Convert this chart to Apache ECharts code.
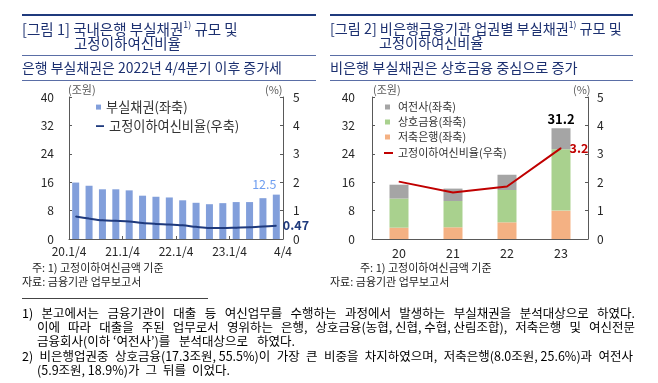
<!DOCTYPE html>
<html><head><meta charset="utf-8">
<script src="https://cdn.jsdelivr.net/npm/echarts@6/dist/echarts.min.js"></script>
<style>html,body{margin:0;padding:0;background:#fff}#c{width:658px;height:383px}</style>
</head><body><div id="c"></div>
<script>
// ---- data ----
const quarters = ['20.1/4','20.2/4','20.3/4','20.4/4','21.1/4','21.2/4','21.3/4','21.4/4','22.1/4','22.2/4','22.3/4','22.4/4','23.1/4','23.2/4','23.3/4','23.4/4'];
const bankNpl = [15.9, 15.0, 14.0, 14.0, 13.7, 12.2, 11.9, 11.7, 10.9, 10.2, 9.8, 10.1, 10.4, 10.4, 11.5, 12.5];
const bankRatio = [0.79, 0.72, 0.66, 0.64, 0.62, 0.56, 0.53, 0.51, 0.48, 0.43, 0.39, 0.39, 0.40, 0.41, 0.44, 0.47];
const bankTickLabels = ['20.1/4','21.1/4','22.1/4','23.1/4','4/4'];
const years = ['20','21','22','23'];
const savingsBank = [3.2, 3.3, 4.7, 8.0];
const mutualFin = [8.2, 7.4, 9.1, 17.3];
const creditCo = [3.9, 3.5, 4.3, 5.9];
const nonBankRatio = [2.02, 1.64, 1.85, 3.2];

// ---- styles ----
const SANS = '"Noto Sans CJK KR", "Noto Sans", sans-serif';
const AX = '#595959', TXT = '#262626', NAVY = '#1f3a7d';
const TITLE_C = '#1c3070', RULE_C = '#5a6ea6';

const cv = document.createElement('canvas').getContext('2d');
function tw(t, size, weight){ cv.font = (weight||'normal') + ' ' + size + 'px "Noto Sans CJK KR"'; return cv.measureText(t).width; }
const G = [];
function txt(x, y, t, size, color, weight){
  G.push({type:'text', x:x, y:y, silent:true, style:{text:t, fontSize:size, fontFamily:SANS, fontWeight:weight||'normal', fill:color, textAlign:'left', align:'left', textVerticalAlign:'middle', verticalAlign:'middle'}});
}
function hline(x1, x2, y, w, color){ G.push({type:'line', silent:true, shape:{x1:x1,y1:y,x2:x2,y2:y}, style:{stroke:color, lineWidth:w}}); }
function tokenize(s){ const out=[]; let cur='', d=0; for (const ch of s){ if (ch==='(') d++; if (ch===')' && d>0) d--; if (ch===' ' && d===0){ if(cur) out.push(cur); cur=''; } else cur+=ch; } if(cur) out.push(cur); return out; }
function justify(x0, x1, y, s, size, color, minGap){
  const tk = tokenize(s);
  let w, sum, gap, sz = size;
  for (let k = 0; k < 40; k++){
    w = tk.map(t => tw(t, sz)); sum = w.reduce((a,b)=>a+b,0);
    gap = (x1 - x0 - sum) / (tk.length - 1);
    if (gap >= minGap) break; sz -= 0.1;
  }
  let cx = x0;
  tk.forEach((t,i) => { txt(cx, y, t, sz, color); cx += w[i] + gap; });
}
function fitTitle(x0, x1, y, a, sup, b, color){
  const base = 13; const wb = tw(a, base) + tw(sup, base*0.6) + tw(b, base);
  const s = base * (x1 - x0) / wb; let cx = x0;
  txt(cx, y, a, s, color); cx += tw(a, s);
  if (sup){ txt(cx, y - 4, sup, s*0.6, color); cx += tw(sup, s*0.6); }
  if (b) txt(cx, y, b, s, color);
  return s;
}

// ---- titles ----
hline(22, 316, 15, 2, NAVY); hline(330, 633, 15, 2, NAVY);
const s1 = fitTitle(22, 238, 29, '[그림 1] 국내은행 부실채권', '1)', ' 규모 및', TITLE_C);
txt(74, 43, '고정이하여신비율', s1, TITLE_C);
const s2 = fitTitle(330, 622, 29, '[그림 2] 비은행금융기관 업권별 부실채권', '1)', ' 규모 및', TITLE_C);
txt(379, 43, '고정이하여신비율', s2, TITLE_C);
hline(22, 316, 55.5, 1, RULE_C); hline(330, 633, 55.5, 1, RULE_C);
fitTitle(22, 282, 68, '은행 부실채권은 2022년 4/4분기 이후 증가세', '', '', TITLE_C);
fitTitle(330, 578, 68, '비은행 부실채권은 상호금융 중심으로 증가', '', '', TITLE_C);
hline(22, 316, 80.5, 1, RULE_C); hline(330, 633, 80.5, 1, RULE_C);

// unit labels
txt(68, 90, '(조원)', 11, '#595959'); txt(265, 90, '(%)', 11, '#595959');
txt(373, 90, '(조원)', 11, '#595959'); txt(573, 90, '(%)', 11, '#595959');

// notes
txt(32, 268, '주: 1) 고정이하여신금액 기준', 11, '#222');
txt(22, 282, '자료: 금융기관 업무보고서', 11, '#222');
txt(360, 268, '주: 1) 고정이하여신금액 기준', 11, '#222');
txt(330, 282, '자료: 금융기관 업무보고서', 11, '#222');
hline(22, 208, 298.5, 1, '#444');
const FS = 12.5;
justify(22, 635, 313, '1) 본고에서는 금융기관이 대출 등 여신업무를 수행하는 과정에서 발생하는 부실채권을 분석대상으로 하였다.', FS, '#000', 6);
justify(37, 635, 327, '이에 따라 대출을 주된 업무로서 영위하는 은행, 상호금융(농협, 신협, 수협, 산림조합), 저축은행 및 여신전문', FS, '#000', 6);
justify(37, 295, 341, '금융회사(이하 ‘여전사’)를 분석대상으로 하였다.', FS, '#000', 3);
justify(22, 633, 356, '2) 비은행업권중 상호금융(17.3조원, 55.5%)이 가장 큰 비중을 차지하였으며, 저축은행(8.0조원, 25.6%)과 여전사', FS, '#000', 6);
justify(37, 230, 370, '(5.9조원, 18.9%)가 그 뒤를 이었다.', FS, '#000', 3);

const last = bankNpl.length - 1;
const yl = (m) => ({show:true, margin:m, fontSize:12, color:TXT, fontFamily:SANS});
const axLine = {show:true, lineStyle:{color:AX, width:1}};
const tick = {show:true, inside:true, length:3, lineStyle:{color:AX}};
const totals = savingsBank.map((v,i) => v + mutualFin[i] + creditCo[i]);
const LINE_ICON = 'path://M0,0L9,0L9,2L0,2Z';

const option = {
  animation:false,
  graphic:G,
  grid:[{left:69, top:97, width:214, height:142},{left:372, top:97, width:216, height:142}],
  legend:[
    {data:['부실채권(좌축)'], left:96, top:100.5, padding:0, itemWidth:5, itemHeight:5, icon:'rect', selectedMode:false, textStyle:{fontSize:13.2, color:'#333', fontFamily:SANS}},
    {data:['고정이하여신비율(우축)'], left:96, top:119.5, padding:0, itemWidth:8, itemHeight:5, icon:LINE_ICON, selectedMode:false, textStyle:{fontSize:13.2, color:'#333', fontFamily:SANS}},
    {data:['여전사(좌축)','상호금융(좌축)','저축은행(좌축)'], orient:'vertical', left:385, top:101.5, padding:0, itemGap:4, itemWidth:5, itemHeight:5, icon:'rect', selectedMode:false, textStyle:{fontSize:11, color:'#333', fontFamily:SANS, padding:[0,0,0,3]}},
    {data:['고정이하여신비율(우축) '], left:384, top:147.5, padding:0, itemWidth:9, itemHeight:5, icon:LINE_ICON, selectedMode:false, textStyle:{fontSize:11, color:'#333', fontFamily:SANS}}
  ],
  xAxis:[
    {type:'category', gridIndex:0, data:quarters, boundaryGap:true, axisLine:axLine, axisTick:{show:false}, axisLabel:{show:false}},
    {type:'value', gridIndex:0, min:0, max:16, interval:4, position:'bottom', axisLine:{show:false}, axisTick:tick, splitLine:{show:false},
      axisLabel:{formatter:v => bankTickLabels[v/4], margin:6, fontSize:12, color:TXT, fontFamily:SANS}},
    {type:'category', gridIndex:1, data:years, axisLine:axLine, axisTick:{show:false}, axisLabel:{margin:8, fontSize:12.5, color:TXT, fontFamily:SANS}}
  ],
  yAxis:[
    {type:'value', gridIndex:0, min:0, max:40, interval:8, position:'left', axisLine:axLine, axisTick:tick, splitLine:{show:false}, axisLabel:yl(15)},
    {type:'value', gridIndex:0, min:0, max:5, interval:1, position:'right', axisLine:axLine, axisTick:tick, splitLine:{show:false}, axisLabel:yl(10)},
    {type:'value', gridIndex:1, min:0, max:40, interval:8, position:'left', axisLine:axLine, axisTick:tick, splitLine:{show:false}, axisLabel:yl(17)},
    {type:'value', gridIndex:1, min:0, max:5, interval:1, position:'right', axisLine:axLine, axisTick:tick, splitLine:{show:false}, axisLabel:yl(9)}
  ],
  series:[
    {name:'부실채권(좌축)', type:'bar', xAxisIndex:0, yAxisIndex:0, barWidth:7, itemStyle:{color:'#829fdb'},
      data:bankNpl.map((v,i) => i===last ? {value:v, label:{show:true, position:'top', distance:4, offset:[-12,0], color:'#6f9ef0', fontSize:12.5, fontFamily:SANS, formatter:p => p.value.toFixed(1)}} : v)},
    {name:'고정이하여신비율(우축)', type:'line', xAxisIndex:0, yAxisIndex:1, symbol:'circle', symbolSize:1, showSymbol:true, smooth:0.3, lineStyle:{width:2, color:NAVY}, itemStyle:{color:NAVY},
      data:bankRatio.map((v,i) => i===last ? {value:v, label:{show:true, position:'right', distance:6, color:NAVY, fontWeight:'bold', fontSize:12.5, fontFamily:SANS, formatter:p => p.value.toFixed(2)}} : v)},
    {name:'저축은행(좌축)', type:'bar', stack:'nb', xAxisIndex:2, yAxisIndex:2, barWidth:19, itemStyle:{color:'#f4b183'}, data:savingsBank},
    {name:'상호금융(좌축)', type:'bar', stack:'nb', xAxisIndex:2, yAxisIndex:2, barWidth:19, itemStyle:{color:'#a9d18e'}, data:mutualFin},
    {name:'여전사(좌축)', type:'bar', stack:'nb', xAxisIndex:2, yAxisIndex:2, barWidth:19, itemStyle:{color:'#a5a5a5'},
      data:creditCo.map((v,i) => i===creditCo.length-1 ? {value:v, label:{show:true, position:'top', distance:3, color:'#000', fontWeight:'bold', fontSize:13, fontFamily:SANS, formatter:p => totals[p.dataIndex].toFixed(1)}} : v)},
    {name:'고정이하여신비율(우축) ', type:'line', xAxisIndex:2, yAxisIndex:3, symbol:'circle', symbolSize:1, showSymbol:true, lineStyle:{width:2, color:'#c00000'}, itemStyle:{color:'#c00000'},
      data:nonBankRatio.map((v,i) => i===nonBankRatio.length-1 ? {value:v, label:{show:true, position:'right', distance:8, color:'#c00000', fontWeight:'bold', fontSize:12.5, fontFamily:SANS, formatter:p => p.value.toFixed(1)}} : v)}
  ]
};
const chart = echarts.init(document.getElementById('c'));
chart.setOption(option);
</script></body></html>
